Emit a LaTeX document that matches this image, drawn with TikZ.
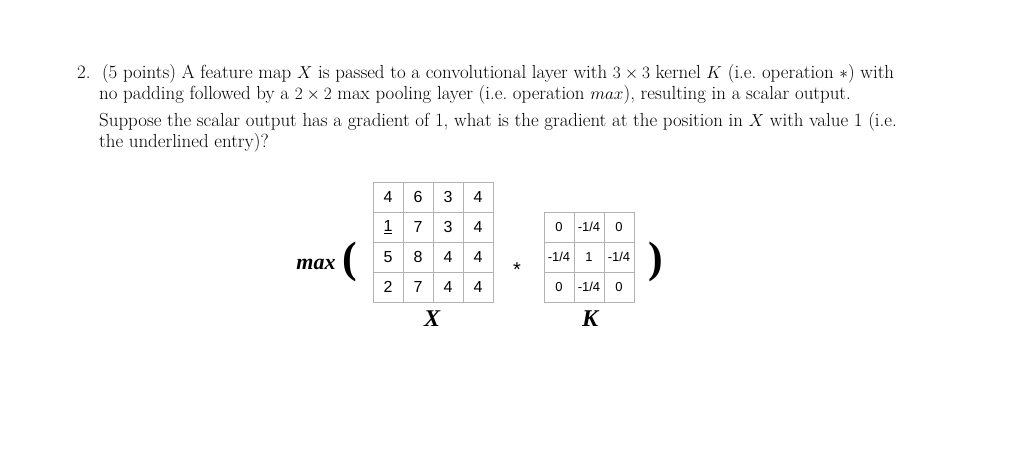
\documentclass[tikz,border=0pt]{standalone}
\usepackage{fontspec}
\newfontfamily\arial{Liberation Sans}
\newfontfamily\tnrfont{Liberation Serif}
\begin{document}
\begin{tikzpicture}[x=1pt,y=-1pt,
  txt/.style={anchor=base west,inner sep=0pt,font=\fontsize{18.9}{21}\selectfont},
  cell/.style={draw=black!30,line width=0.8pt,minimum size=30pt,inner sep=0pt,font=\arial\fontsize{16}{16}\selectfont},
  kcell/.style={cell,font=\arial\fontsize{13}{13}\selectfont}]
\useasboundingbox (0,0) rectangle (1030,465);
\node[txt] (l1) at (77,79) {2.\ \ (5 points) A feature map $X$ is passed to a convolutional layer with $3\times3$ kernel $K$ (i.e.\ operation $*$) with};
\node[txt] (l2) at (99,100) {no padding followed by a $2\times2$ max pooling layer (i.e.\ operation $max$), resulting in a scalar output.};
\node[txt] (l3) at (99,127) {Suppose the scalar output has a gradient of 1, what is the gradient at the position in $X$ with value 1 (i.e.};
\node[txt] (l4) at (99,148) {the underlined entry)?};
\foreach \r [count=\i from 0] in {{4,6,3,4},{\underline{1},7,3,4},{5,8,4,4},{2,7,4,4}}{
  \foreach \v [count=\j from 0] in \r {
    \node[cell] (x\i\j) at (388+30*\j,197+30*\i) {\v};
  }
}
\foreach \r [count=\i from 0] in {{0,-1/4,0},{-1/4,1,-1/4},{0,-1/4,0}}{
  \foreach \v [count=\j from 0] in \r {
    \node[kcell] (k\i\j) at (559+30*\j,227+30*\i) {\v};
  }
}
\node[font=\tnrfont\fontsize{22}{22}\selectfont\bfseries\itshape] (mx) at (316,264) {max};
\node[font=\tnrfont\fontsize{44}{44}\selectfont\bfseries] (lp) at (350,262) {(};
\node[font=\tnrfont\fontsize{44}{44}\selectfont\bfseries] (rp) at (656,262) {)};
\node[font=\arial\fontsize{20}{20}\selectfont] (st) at (517,270) {*};
\node[font=\tnrfont\fontsize{24}{24}\selectfont\bfseries\itshape] (xl) at (432,319) {X};
\node[font=\tnrfont\fontsize{24}{24}\selectfont\bfseries\itshape] (kl) at (590,319) {K};
\end{tikzpicture}
\end{document}
